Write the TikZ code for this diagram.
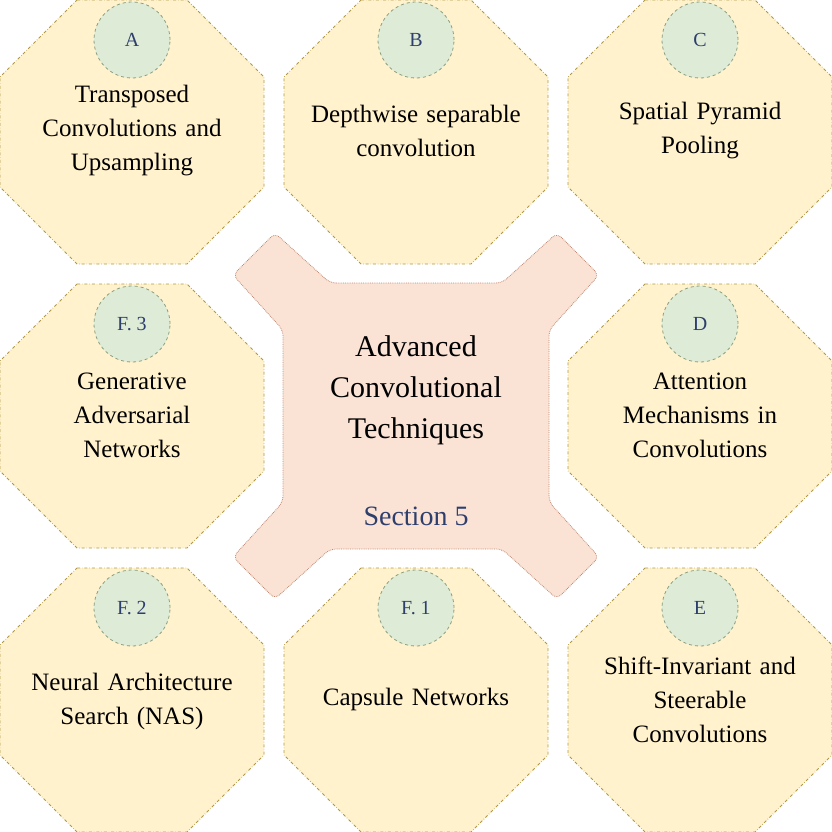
\documentclass[tikz,border=0pt]{standalone}
\usepackage{fontspec}
\setmainfont{Liberation Serif}
\begin{document}
\begin{tikzpicture}[x=1pt,y=-1pt,
  oct/.style={fill=octfill,draw=octline,dash dot,line width=0.8pt},
  badge/.style={circle,minimum size=76pt,inner sep=0pt,fill=badgefill,draw=badgeline,dashed,line width=0.8pt,font=\fontsize{20}{24}\selectfont,text=titleblue},
  lbl/.style={align=center,font=\fontsize{25}{34}\selectfont,text width=250pt}]
\definecolor{octfill}{HTML}{FFF2CC}
\definecolor{octline}{HTML}{B09848}
\definecolor{badgefill}{HTML}{DEEBD6}
\definecolor{badgeline}{HTML}{8A9F80}
\definecolor{cfill}{HTML}{FAE3D5}
\definecolor{cline}{HTML}{C08870}
\definecolor{titleblue}{HTML}{2E3F6E}
\useasboundingbox (0,0) rectangle (832,832);
\foreach \cx/\cy/\nm in {132/132/a,416/132/b,700/132/c,132/416/f3,700/416/d,132/700/f2,416/700/f1,700/700/e}{
  \draw[oct] (\cx-55,\cy-132) -- (\cx+55,\cy-132) -- (\cx+132,\cy-55) -- (\cx+132,\cy+55) -- (\cx+55,\cy+132) -- (\cx-55,\cy+132) -- (\cx-132,\cy+55) -- (\cx-132,\cy-55) -- cycle;
}
\node[badge] (ba) at (132,40) {A};
\node[badge] (bb) at (416,40) {B};
\node[badge] (bc) at (700,40) {C};
\node[badge] (bf3) at (132,324) {F. 3};
\node[badge] (bd) at (700,324) {D};
\node[badge] (bf2) at (132,608) {F. 2};
\node[badge] (bf1) at (416,608) {F. 1};
\node[badge] (be) at (700,608) {E};
\node[lbl] (ta) at (132,131) {Transposed\\Convolutions and\\Upsampling};
\node[lbl] (tb) at (416,131) {Depthwise separable\\convolution};
\node[lbl] (tc) at (700,131) {Spatial Pyramid\\Pooling};
\node[lbl] (tf3) at (132,415) {Generative\\Adversarial\\Networks};
\node[lbl] (td) at (700,415) {Attention\\Mechanisms in\\Convolutions};
\node[lbl] (tf2) at (132,701) {Neural Architecture\\Search (NAS)};
\node[lbl] (tf1) at (416,699) {Capsule Networks};
\node[lbl] (te) at (700,700) {Shift-Invariant and\\Steerable\\Convolutions};
\draw[fill=cfill,draw=cline,densely dotted,line width=0.8pt,rounded corners=6pt]
  (330,283) -- (502,283) -- (557,233) -- (599,275) -- (549,330) -- (549,502) -- (599,557) -- (557,599) -- (502,549) -- (330,549) -- (275,599) -- (233,557) -- (283,502) -- (283,330) -- (233,275) -- (275,233) -- cycle;
\node[align=center,font=\fontsize{30}{41}\selectfont] (ct) at (416,390) {Advanced\\Convolutional\\Techniques};
\node[font=\fontsize{28}{34}\selectfont,text=titleblue] (cs) at (416,516) {Section 5};
\end{tikzpicture}
\end{document}
